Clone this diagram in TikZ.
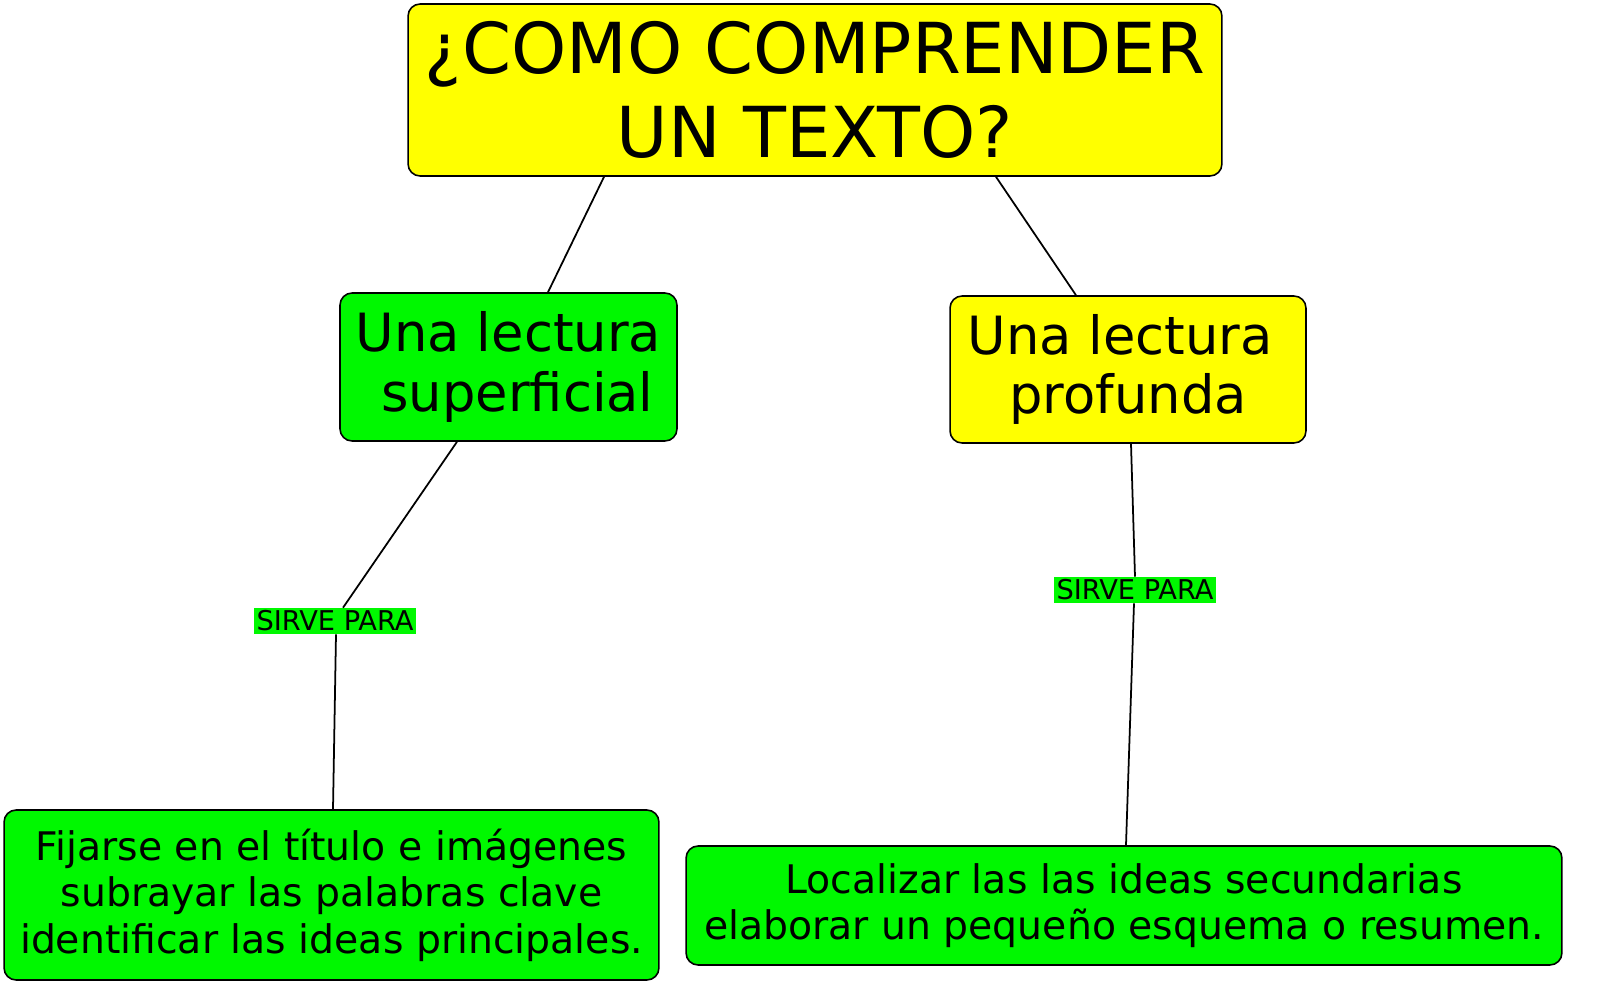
\documentclass[tikz,border=0pt]{standalone}
\usepackage{fontspec}
\setmainfont{DejaVu Sans}
\definecolor{mapyellow}{HTML}{FFFF00}
\definecolor{mapgreen}{HTML}{00F800}
\tikzset{
  mapbox/.style={draw, rounded corners=0.24cm, line width=0.9pt, align=center, inner sep=0pt},
  linkword/.style={fill=mapgreen, inner sep=1.5pt, font=\fontsize{15.5}{17}\selectfont},
  link/.style={line width=1pt}
}
\begin{document}
\begin{tikzpicture}[x=0.02cm,y=-0.02cm]
\useasboundingbox (0,0) rectangle (1600,1005);

% concepts
\node[mapbox, fill=mapyellow, minimum width=16.28cm, minimum height=3.44cm,
  font=\fontsize{40}{48}\selectfont] (title) at (815,90) {¿COMO COMPRENDER\\UN TEXTO?};
\node[mapbox, fill=mapgreen, minimum width=6.74cm, minimum height=2.96cm,
  font=\fontsize{30}{34}\selectfont] (superficial) at (508.5,367) {Una lectura\\\hspace*{0.36cm}superficial};
\node[mapbox, fill=mapyellow, minimum width=7.12cm, minimum height=2.94cm,
  font=\fontsize{30}{34}\selectfont] (profunda) at (1128,369.5) {Una lectura\hspace*{0.32cm}\\profunda};
\node[mapbox, fill=mapgreen, minimum width=13.1cm, minimum height=3.4cm,
  font=\fontsize{22.4}{26.5}\selectfont] (fijarse) at (331.5,895) {Fijarse en el título e imágenes\\subrayar las palabras clave\\identificar las ideas principales.};
\node[mapbox, fill=mapgreen, minimum width=17.52cm, minimum height=2.38cm,
  font=\fontsize{22.4}{26.5}\selectfont] (localizar) at (1124,905.5) {Localizar las las ideas secundarias\\elaborar un pequeño esquema o resumen.};

% linking words
\node[linkword] (sirveA) at (335,621) {SIRVE PARA};
\node[linkword] (sirveB) at (1135,590) {SIRVE PARA};

% connectors
\draw[link] ([xshift=-4.22cm]title.south) -- ([xshift=0.79cm]superficial.north);
\draw[link] ([xshift=3.62cm]title.south) -- ([xshift=-1.04cm]profunda.north);
\draw[link] ([xshift=-1.03cm]superficial.south) -- ([xshift=0.16cm]sirveA.north);
\draw[link] ([xshift=0.02cm]sirveA.south) -- ([xshift=0.03cm]fijarse.north);
\draw[link] ([xshift=0.06cm]profunda.south) -- (sirveB.north);
\draw[link] ([xshift=-0.02cm]sirveB.south) -- ([xshift=0.04cm]localizar.north);

\end{tikzpicture}
\end{document}
